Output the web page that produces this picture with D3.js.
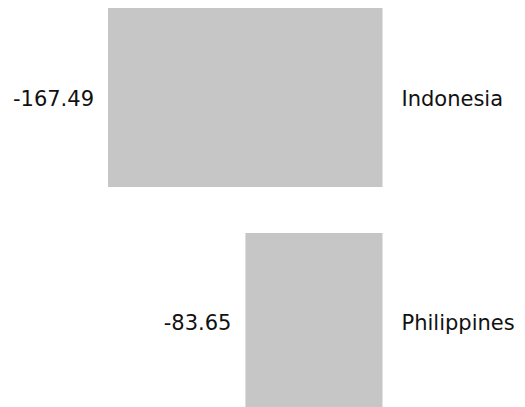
<!DOCTYPE html>
<html>
<head>
<meta charset="utf-8">
<script src="https://cdn.jsdelivr.net/npm/d3@7"></script>
<style>
  html, body { margin: 0; padding: 0; background: #fff; overflow: hidden; }
  svg { display: block; }
  text { font-family: "DejaVu Sans", sans-serif; font-size: 21px; fill: #111; }
</style>
</head>
<body>
<svg id="chart" width="525" height="407"></svg>
<script>
// Net change per country
const countries = ["Indonesia", "Philippines"];
const values = [-167.49, -83.65];

const svg = d3.select("#chart");

const x = d3.scaleLinear()
  .domain([-167.49, 0])
  .range([108, 382.5]);

const y = d3.scaleBand()
  .domain(countries)
  .range([8, 412])
  .paddingInner(0.2044)
  .paddingOuter(0);

const rows = countries.map((c, i) => ({ country: c, value: values[i] }));

const g = svg.append("g");

g.selectAll("rect.bar")
  .data(rows)
  .join("rect")
  .attr("class", "bar")
  .attr("x", d => x(Math.min(0, d.value)))
  .attr("width", d => Math.abs(x(d.value) - x(0)))
  .attr("y", d => y(d.country))
  .attr("height", y.bandwidth())
  .attr("fill", "#c6c6c6");

// value labels on the left of each bar
g.selectAll("text.value")
  .data(rows)
  .join("text")
  .attr("class", "value")
  .attr("x", d => x(d.value) - 14)
  .attr("y", d => y(d.country) + y.bandwidth() / 2 + 8)
  .attr("text-anchor", "end")
  .text(d => d.value.toFixed(2));

// category labels on the right of the zero line
g.selectAll("text.cat")
  .data(rows)
  .join("text")
  .attr("class", "cat")
  .attr("x", x(0) + 19)
  .attr("y", d => y(d.country) + y.bandwidth() / 2 + 8)
  .attr("text-anchor", "start")
  .text(d => d.country);
</script>
</body>
</html>
